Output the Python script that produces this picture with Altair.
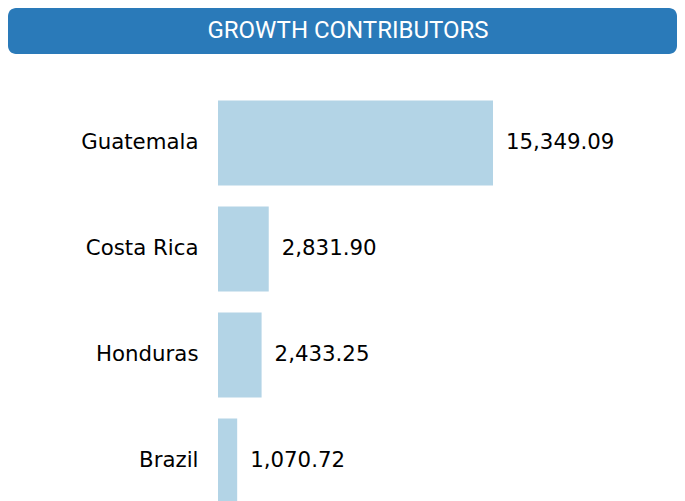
import altair as alt
import pandas as pd

countries = ["Guatemala", "Costa Rica", "Honduras", "Brazil"]
values = [15349.09, 2831.90, 2433.25, 1070.72]
title_text = ["GROWTH CONTRIBUTORS"]

df = pd.DataFrame({"country": countries, "value": values})
tdf = pd.DataFrame({"t": title_text})

y = alt.Y(
    "country:N",
    sort=countries,
    title=None,
    scale=alt.Scale(paddingInner=0.2, paddingOuter=0.1),
    axis=alt.Axis(
        domain=False, ticks=False, grid=False, labelPadding=20, minExtent=210,
        labelFontSize=21.3, labelFont="DejaVu Sans", labelColor="#000000",
    ),
)
x = alt.X("value:Q", scale=alt.Scale(nice=False, zero=True), axis=None)

bars = alt.Chart(df).mark_bar(color="#b3d4e6").encode(x=x, y=y)
labels = alt.Chart(df).mark_text(
    align="left", baseline="middle", dx=13, fontSize=21.3, font="DejaVu Sans", color="#000000"
).encode(x=x, y=y, text=alt.Text("value:Q", format=",.2f"))

header = alt.Chart(tdf).mark_rect(color="#2a7ab9", cornerRadius=8).encode(
    x=alt.value(-210), x2=alt.value(459), y=alt.value(-82), y2=alt.value(-36)
)
header_text = alt.Chart(tdf).mark_text(
    color="white", font="Roboto", fontSize=24, align="center", baseline="middle"
).encode(x=alt.value(130), y=alt.value(-59), text="t:N")

chart = alt.layer(bars, labels, header, header_text).properties(
    width=275, height=424, padding=0
).configure_view(stroke=None)

chart.save("out.html", embed_options={"renderer": "svg", "actions": False})
